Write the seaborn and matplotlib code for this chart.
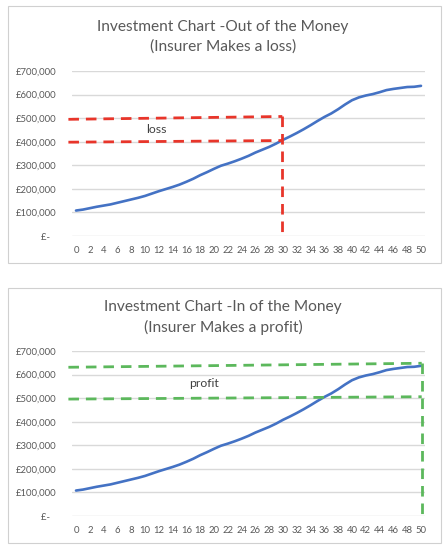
import numpy as np
import pandas as pd
import matplotlib
matplotlib.use("Agg")
import matplotlib.pyplot as plt
import seaborn as sns
from matplotlib.patches import Rectangle

# ---- data ----
years = list(range(0, 51))
fund_value = [108000, 112000, 118000, 124000, 129000, 134000, 141000, 148000, 155000, 162000,
              170000, 180000, 190000, 199000, 208000, 218000, 230000, 243000, 258000, 271000,
              285000, 298000, 307000, 317000, 328000, 340000, 354000, 366000, 378000, 392000,
              408000, 422000, 437000, 453000, 470000, 488000, 505000, 520000, 538000, 558000,
              576000, 588000, 596000, 602000, 610000, 619000, 624000, 628000, 632000, 633000,
              637000]
titles = ["Investment Chart -Out of the Money\n(Insurer Makes a loss)",
          "Investment Chart -In of the Money\n(Insurer Makes a profit)"]
y_ticks = [0, 100000, 200000, 300000, 400000, 500000, 600000, 700000]
y_tick_labels = ["£-   ", "£100,000", "£200,000", "£300,000", "£400,000",
                 "£500,000", "£600,000", "£700,000"]
x_ticks = list(range(0, 51, 2))

# annotation shapes (drawn by hand in the original)
loss_upper = ([-1.1, 29.9], [495000, 507000])
loss_lower = ([-1.1, 29.9], [398000, 405000])
loss_vertical = ([29.9, 29.9], [507000, 0])
loss_label = (11.7, 450000, "loss")
profit_upper = ([-1.1, 50.1], [631000, 648000])
profit_lower = ([-1.1, 50.1], [496000, 506000])
profit_vertical = ([50.1, 50.1], [648000, 0])
profit_label = (18.6, 564000, "profit")

df = pd.DataFrame({"year": years, "value": fund_value})

sns.set_theme(style="white")
plt.rcParams["font.family"] = ["Lato", "DejaVu Sans"]

W, H = 447, 556
fig = plt.figure(figsize=(W / 100, H / 100), dpi=100)
fig.patch.set_facecolor("white")

text_gray = "#595959"
grid_gray = "#d9d9d9"

def fx(px):
    return px / W

def fy(py):
    return 1 - py / H

# panel borders
for top, bot in [(6, 263), (288, 543)]:
    fig.add_artist(Rectangle((fx(8), fy(bot)), fx(441) - fx(8), fy(top) - fy(bot),
                             transform=fig.transFigure, fill=False,
                             edgecolor="#d0d0d0", linewidth=0.8))

panels = [
    dict(ax_top=71, ax_bot=236, title_y=(27, 47), color="#e8352a",
         shapes=[loss_upper, loss_lower, loss_vertical], label=loss_label),
    dict(ax_top=351, ax_bot=516, title_y=(307, 327), color="#5cb85c",
         shapes=[profit_upper, profit_lower, profit_vertical], label=profit_label),
]

for i, p in enumerate(panels):
    ax = fig.add_axes([fx(72), fy(p["ax_bot"]), fx(425) - fx(72), fy(p["ax_top"]) - fy(p["ax_bot"])])
    sns.lineplot(data=df, x="year", y="value", ax=ax, color="#4472c4", linewidth=1.9)
    ax.set_xlim(-0.58, 50.58)
    ax.set_ylim(0, 700000)
    ax.set_yticks(y_ticks)
    ax.set_yticklabels(y_tick_labels)
    ax.set_xticks(x_ticks)
    ax.set_xticklabels([str(t) for t in x_ticks])
    ax.tick_params(axis="y", length=0, pad=11, labelsize=6.8, labelcolor=text_gray)
    ax.tick_params(axis="x", length=0, pad=7, labelsize=6.8, labelcolor=text_gray)
    ax.set_xlabel("")
    ax.set_ylabel("")
    ax.grid(axis="y", color=grid_gray, linewidth=1.0)
    ax.set_axisbelow(True)
    for s in ax.spines.values():
        s.set_visible(False)
    for xs, ys in p["shapes"]:
        ax.plot(xs, ys, color=p["color"], linewidth=2.0, dashes=(3.8, 2.5),
                clip_on=False, zorder=5)
    lx, ly, lt = p["label"]
    ax.text(lx, ly, lt, ha="center", va="center", fontsize=8.8, color="#404040")
    l1, l2 = titles[i].split("\n")
    fig.text(fx(223), fy(p["title_y"][0]), l1, ha="center", va="center",
             fontsize=11.2, color=text_gray)
    fig.text(fx(223), fy(p["title_y"][1]), l2, ha="center", va="center",
             fontsize=11.2, color=text_gray)

fig.savefig("out.png", dpi=100, facecolor="white")
